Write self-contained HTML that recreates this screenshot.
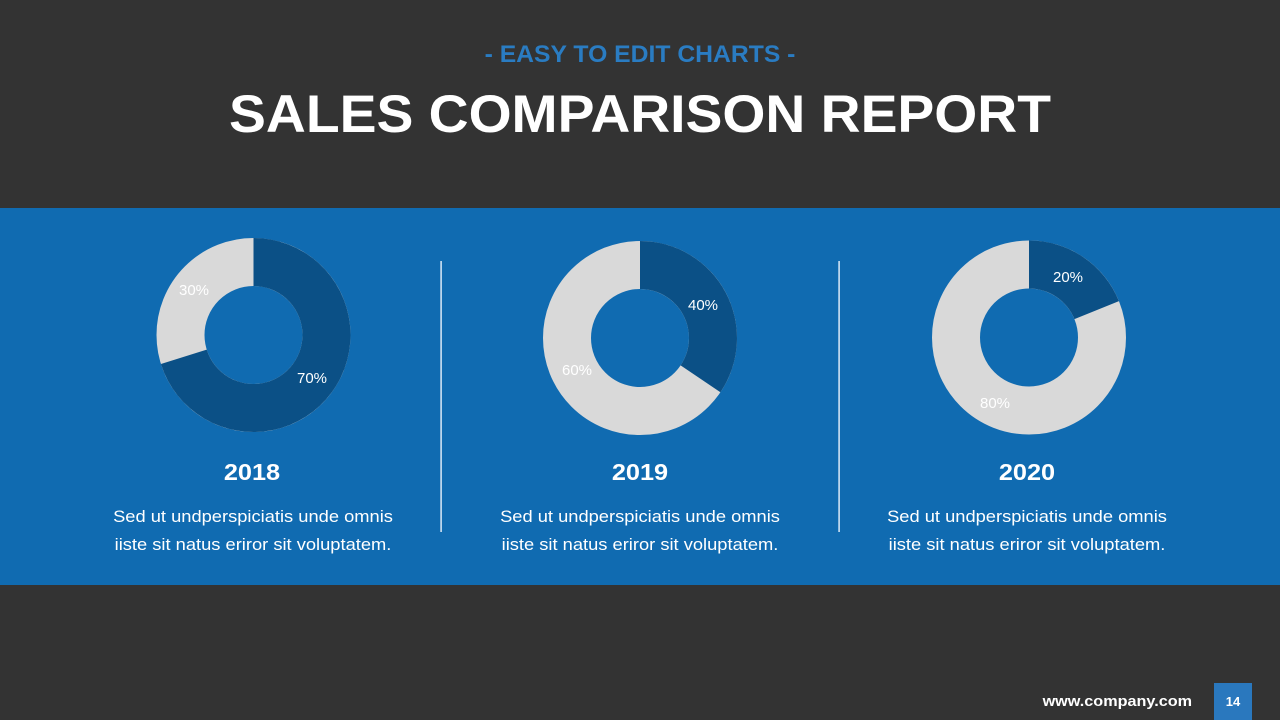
<!DOCTYPE html>
<html>
<head>
<meta charset="utf-8">
<style>
  html, body { margin:0; padding:0; }
  body { width:1280px; height:720px; background:#333333; overflow:hidden; position:relative; font-family:"Liberation Sans", sans-serif; }
  svg { position:absolute; left:0; top:0; }
</style>
</head>
<body>
<svg width="1280" height="720" viewBox="0 0 1280 720" xmlns="http://www.w3.org/2000/svg">
  <rect x="0" y="0" width="1280" height="720" fill="#333333"/>
  <!-- header -->
  <g transform="translate(640,62) scale(1.03,1)">
    <text x="0" y="0" text-anchor="middle" font-family="Liberation Sans, sans-serif" font-weight="bold" font-size="24" fill="#2a7cc2">- EASY TO EDIT CHARTS -</text>
  </g>
  <g transform="translate(640,132) scale(1.043,1)">
    <text x="0" y="0" text-anchor="middle" font-family="Liberation Sans, sans-serif" font-weight="bold" font-size="53" fill="#ffffff">SALES COMPARISON REPORT</text>
  </g>

  <!-- blue band -->
  <rect x="0" y="208" width="1280" height="377" fill="#106bb1"/>

  <!-- dividers -->
  <rect x="440.3" y="261" width="1.6" height="271" fill="#cfe2f3"/>
  <rect x="838.3" y="261" width="1.6" height="271" fill="#cfe2f3"/>

  <!-- Donut 1 -->
  <circle cx="253.5" cy="335" r="73" fill="none" stroke="#d9d9d9" stroke-width="48"/>
  <path d="M 253.5 238 A 97 97 0 1 1 160.94 364.0 L 206.74 349.65 A 49 49 0 1 0 253.5 286 Z" fill="#0b5086"/>
  <g font-family="Liberation Sans, sans-serif" font-size="15" fill="#ffffff" text-anchor="middle">
    <text x="194" y="295">30%</text>
    <text x="312" y="383">70%</text>
  </g>

  <!-- Donut 2 -->
  <circle cx="640" cy="338" r="73" fill="none" stroke="#d9d9d9" stroke-width="48"/>
  <path d="M 640 241 A 97 97 0 0 1 720.41 392.24 L 680.62 365.40 A 49 49 0 0 0 640 289 Z" fill="#0b5086"/>
  <g font-family="Liberation Sans, sans-serif" font-size="15" fill="#ffffff" text-anchor="middle">
    <text x="703" y="310">40%</text>
    <text x="577" y="375">60%</text>
  </g>

  <!-- Donut 3 -->
  <circle cx="1029" cy="337.5" r="73" fill="none" stroke="#d9d9d9" stroke-width="48"/>
  <path d="M 1029 240.5 A 97 97 0 0 1 1118.94 301.16 L 1074.43 319.14 A 49 49 0 0 0 1029 288.5 Z" fill="#0b5086"/>
  <g font-family="Liberation Sans, sans-serif" font-size="15" fill="#ffffff" text-anchor="middle">
    <text x="1068" y="282">20%</text>
    <text x="995" y="408">80%</text>
  </g>

  <!-- Years -->
  <g font-family="Liberation Sans, sans-serif" font-weight="bold" font-size="23" fill="#ffffff" text-anchor="middle">
    <text x="0" y="0" transform="translate(252,480) scale(1.1,1)">2018</text>
    <text x="0" y="0" transform="translate(640,480) scale(1.1,1)">2019</text>
    <text x="0" y="0" transform="translate(1027,480) scale(1.1,1)">2020</text>
  </g>

  <!-- Descriptions -->
  <g font-family="Liberation Sans, sans-serif" font-size="16.5" fill="#ffffff" text-anchor="middle">
    <text x="0" y="0" transform="translate(253,522) scale(1.11,1)">Sed ut undperspiciatis unde omnis</text>
    <text x="0" y="0" transform="translate(253,550) scale(1.11,1)">iiste sit natus eriror sit voluptatem.</text>
    <text x="0" y="0" transform="translate(640,522) scale(1.11,1)">Sed ut undperspiciatis unde omnis</text>
    <text x="0" y="0" transform="translate(640,550) scale(1.11,1)">iiste sit natus eriror sit voluptatem.</text>
    <text x="0" y="0" transform="translate(1027,522) scale(1.11,1)">Sed ut undperspiciatis unde omnis</text>
    <text x="0" y="0" transform="translate(1027,550) scale(1.11,1)">iiste sit natus eriror sit voluptatem.</text>
  </g>

  <!-- Footer -->
  <g transform="translate(1192,706) scale(1.08,1)">
    <text x="0" y="0" text-anchor="end" font-family="Liberation Sans, sans-serif" font-weight="bold" font-size="15" fill="#ffffff">www.company.com</text>
  </g>
  <rect x="1214" y="683" width="38" height="37" fill="#2a78be"/>
  <text x="1233" y="706" text-anchor="middle" font-family="Liberation Sans, sans-serif" font-weight="bold" font-size="13" fill="#ffffff">14</text>
</svg>
</body>
</html>
